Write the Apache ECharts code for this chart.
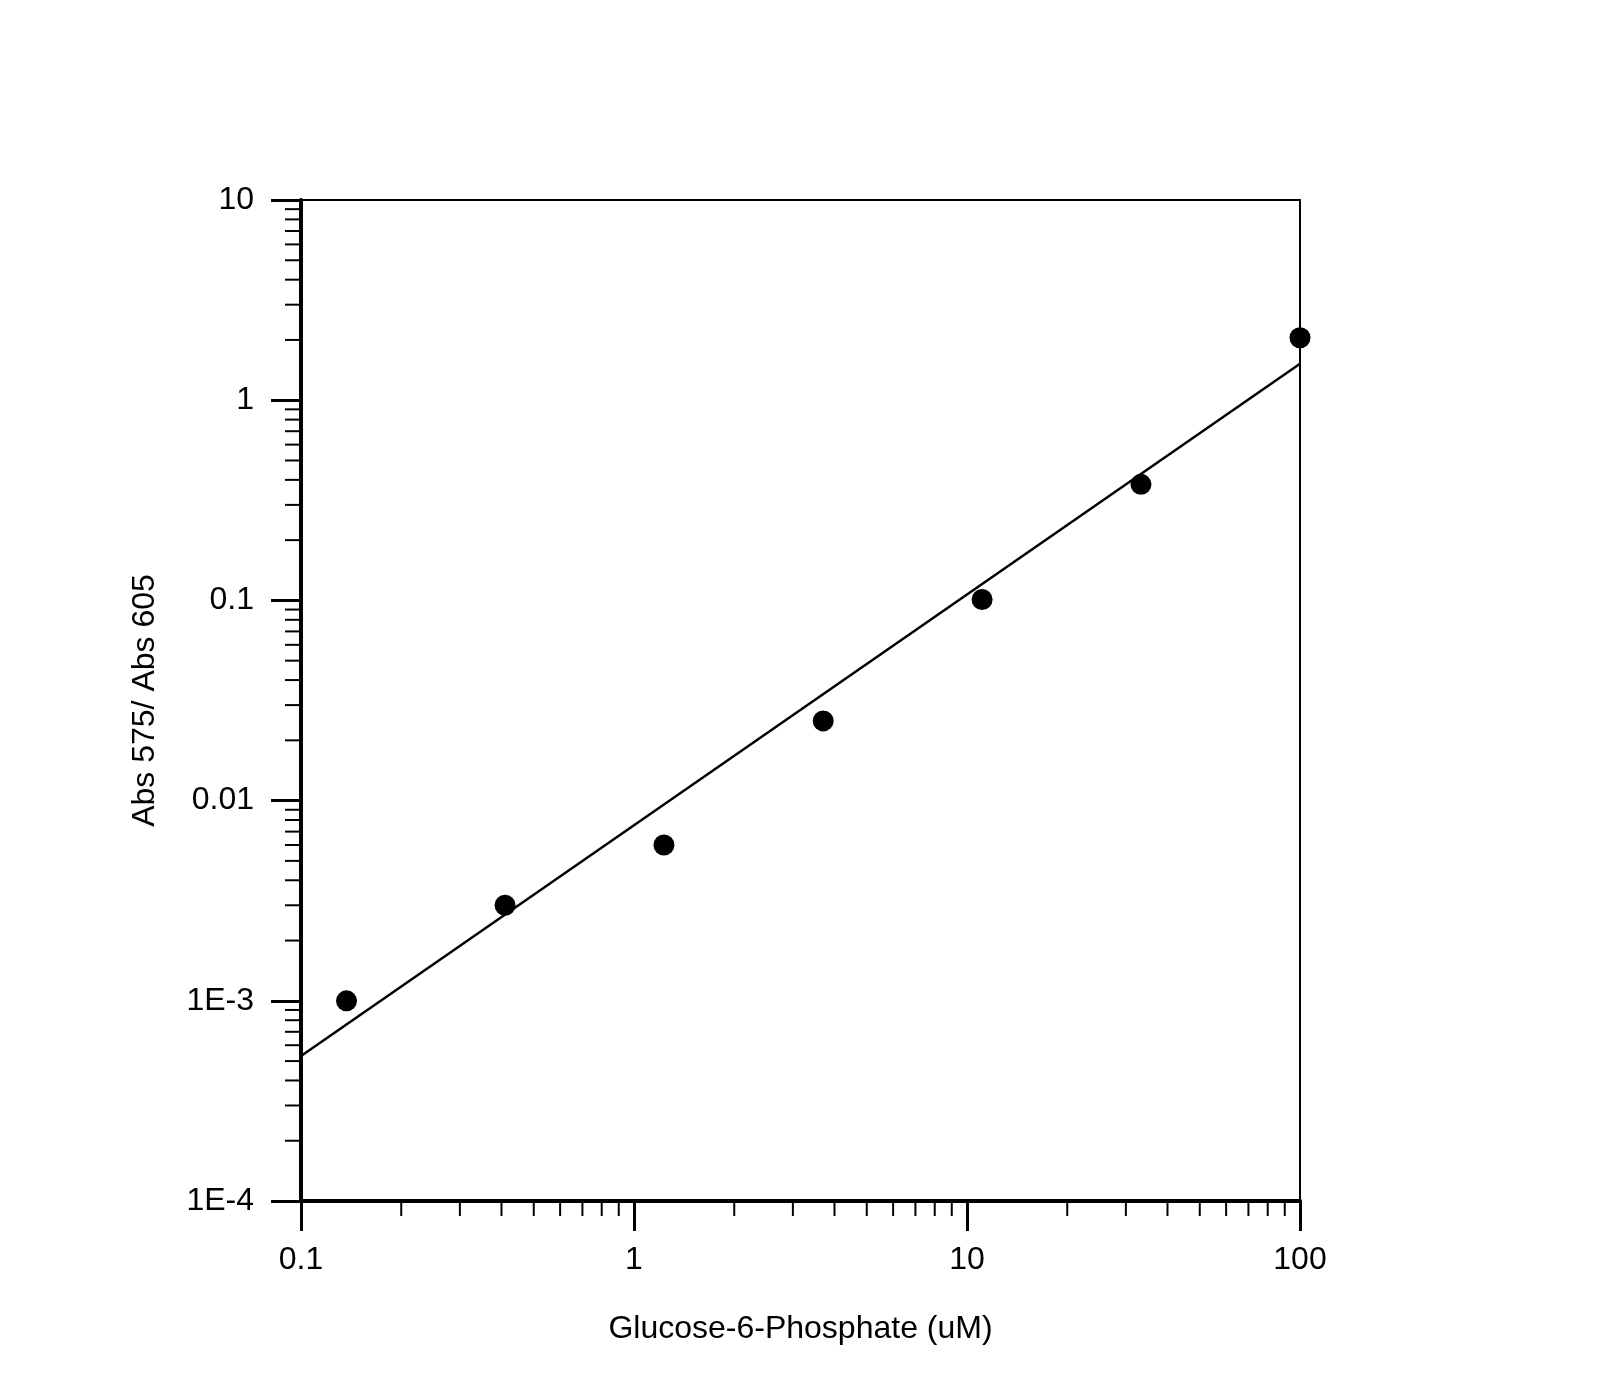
<!DOCTYPE html>
<html>
<head>
<meta charset="utf-8">
<script src="https://cdn.jsdelivr.net/npm/echarts@6/dist/echarts.min.js"></script>
<style>
  html, body { margin: 0; padding: 0; background: #fff; }
  #chart { width: 1600px; height: 1400px; }
</style>
</head>
<body>
<div id="chart"></div>
<script>
  // measured points (3-fold dilution series)
  var concX = [0.137, 0.41, 1.23, 3.7, 11.1, 33.3, 100];
  var absRatio = [0.001, 0.003, 0.006, 0.025, 0.101, 0.38, 2.05];
  // power fit line end points
  var fitX = [0.1, 100];
  var fitY = [0.00053, 1.52];
  // tick labels
  var xTickValues = [0.1, 1, 10, 100];
  var xTickLabels = ['0.1', '1', '10', '100'];
  var yTickValues = [1e-4, 1e-3, 0.01, 0.1, 1, 10];
  var yTickLabels = ['1E-4', '1E-3', '0.01', '0.1', '1', '10'];
  var minorMult = [2, 3, 4, 5, 6, 7, 8, 9];

  function labelFor(values, labels, v) {
    var e = Math.round(Math.log10(v));
    for (var i = 0; i < values.length; i++) {
      if (Math.round(Math.log10(values[i])) === e) return labels[i];
    }
    return '';
  }

  var xMinor = [], yMinor = [];
  xTickValues.slice(0, -1).forEach(function (d) {
    minorMult.forEach(function (m) { xMinor.push([d * m, 1e-4]); });
  });
  yTickValues.slice(0, -1).forEach(function (d) {
    minorMult.forEach(function (m) { yMinor.push([0.1, d * m]); });
  });

  var font = '"Liberation Sans", Arial, sans-serif';
  var chart = echarts.init(document.getElementById('chart'));

  var option = {
    animation: false,
    grid: {
      left: 301, right: 300, top: 200, bottom: 199,
      show: true, borderColor: '#000', borderWidth: 2, backgroundColor: 'transparent'
    },
    xAxis: {
      type: 'log', logBase: 10, min: 0.1, max: 100,
      name: 'Glucose-6-Phosphate (uM)', nameLocation: 'middle', nameGap: 112,
      nameTextStyle: { color: '#000', fontSize: 32, fontFamily: font },
      axisLine: { lineStyle: { color: '#000', width: 4 } },
      axisTick: { inside: false, length: 30, lineStyle: { color: '#000', width: 3 } },
      axisLabel: {
        color: '#000', fontSize: 32, fontFamily: font, margin: 43,
        formatter: function (v) { return labelFor(xTickValues, xTickLabels, v); }
      },
      splitLine: { show: false }
    },
    yAxis: {
      type: 'log', logBase: 10, min: 1e-4, max: 10,
      name: 'Abs 575/ Abs 605', nameLocation: 'middle', nameGap: 140,
      nameTextStyle: { color: '#000', fontSize: 32, fontFamily: font },
      axisLine: { lineStyle: { color: '#000', width: 4 } },
      axisTick: { inside: false, length: 30, lineStyle: { color: '#000', width: 3 } },
      axisLabel: {
        color: '#000', fontSize: 32, fontFamily: font, margin: 47,
        padding: [9, 0, 0, 0],
        formatter: function (v) { return labelFor(yTickValues, yTickLabels, v); }
      },
      splitLine: { show: false }
    },
    series: [
      {
        type: 'line',
        data: fitX.map(function (x, i) { return [x, fitY[i]]; }),
        showSymbol: false,
        lineStyle: { color: '#000', width: 2.5 },
        z: 3
      },
      {
        type: 'scatter',
        data: concX.map(function (x, i) { return [x, absRatio[i]]; }),
        symbol: 'circle', symbolSize: 21,
        itemStyle: { color: '#000', opacity: 1 },
        z: 4
      },
      {
        // x minor ticks below the axis
        type: 'custom', clip: false, silent: true,
        data: xMinor,
        renderItem: function (params, api) {
          var p = api.coord([api.value(0), api.value(1)]);
          return {
            type: 'line',
            shape: { x1: p[0], y1: p[1], x2: p[0], y2: p[1] + 15 },
            style: { stroke: '#000', lineWidth: 2 }
          };
        }
      },
      {
        // y minor ticks left of the axis
        type: 'custom', clip: false, silent: true,
        data: yMinor,
        renderItem: function (params, api) {
          var p = api.coord([api.value(0), api.value(1)]);
          return {
            type: 'line',
            shape: { x1: p[0] - 16, y1: p[1], x2: p[0], y2: p[1] },
            style: { stroke: '#000', lineWidth: 2 }
          };
        }
      }
    ]
  };
  chart.setOption(option);
</script>
</body>
</html>
